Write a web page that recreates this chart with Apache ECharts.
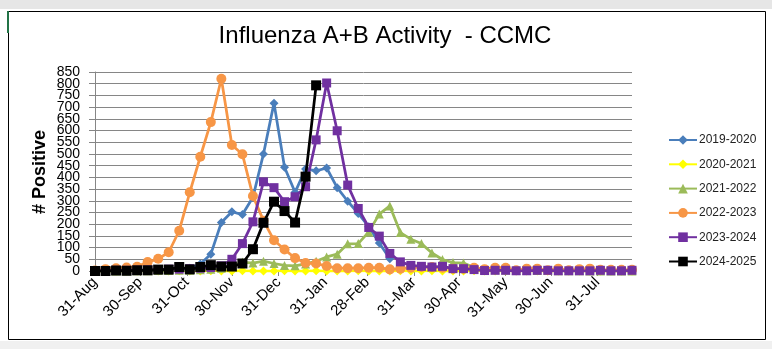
<!DOCTYPE html>
<html><head><meta charset="utf-8">
<script src="https://cdn.jsdelivr.net/npm/echarts@6/dist/echarts.min.js"></script>
<style>html,body{margin:0;padding:0;background:#fff}#c{width:772px;height:349px}</style>
</head><body><div id="c"></div>
<script>
// Week index -> days since 31-Aug (weekly samples)
const monthLabels = ['31-Aug','30-Sep','31-Oct','30-Nov','31-Dec','31-Jan','28-Feb','31-Mar','30-Apr','31-May','30-Jun','31-Jul'];
const monthDays   = [0, 30, 61, 91, 122, 153, 181, 212, 242, 273, 303, 334];
const yTicks      = [0,50,100,150,200,250,300,350,400,450,500,550,600,650,700,750,800,850];
const seriesNames = ['2019-2020','2020-2021','2021-2022','2022-2023','2023-2024','2024-2025'];

const s2019 = [1,1,2,2,3,3,5,5,8,12,30,72,207,253,241,315,500,717,443,336,436,428,440,356,298,246,189,120,52];
const s2020 = [0,0,0,0,0,1,0,0,1,0,0,1,0,0,1,0,0,0,1,0,0,1,0,0,0,1,0,0,0,1,0,0,1,0,0,0,1,0,0,0,1,0,0,0,0,1,0,0,0,0,0,0];
const s2021 = [0,0,0,0,1,1,2,2,3,3,5,8,12,20,38,34,42,32,24,22,30,42,60,72,116,117,167,243,278,164,136,117,77,49,36,34,15,8,5,4,3,3,2,2,1,1,1,0,0,0,0,0];
const s2022 = [2,8,12,15,18,38,52,80,172,336,488,636,821,538,499,320,215,131,92,55,34,32,21,12,12,12,14,14,7,10,14,17,17,14,10,10,14,8,14,14,3,10,10,3,10,3,8,10,5,5,5,5];
const s2023 = [2,2,3,3,4,5,6,8,8,10,12,15,22,50,117,210,381,356,296,317,360,560,803,599,367,267,186,149,75,39,24,20,17,20,10,10,6,2,3,3,1,1,3,3,1,1,1,1,3,1,1,3];
const s2024 = [0,0,2,1,3,3,6,6,17,7,17,25,19,19,32,93,206,296,256,207,403,793];

const allValues = [s2019, s2020, s2021, s2022, s2023, s2024];
const colors  = ['#4A7EBB','#FFFF00','#9BBB59','#F79646','#7030A0','#000000'];
const symbols = ['diamond','diamond','triangle','circle','rect','rect'];
const sizes   = [9, 9, 9, 10, 9, 10];

const labelMap = {};
monthDays.forEach((d, i) => { labelMap[d] = monthLabels[i]; });
// split y labels across two overlaid axes so tightly packed labels are not auto-hidden
const yEven = yTicks.filter((v, i) => i % 2 === 0);
const yOdd  = yTicks.filter((v, i) => i % 2 === 1);

const FONT = '"Liberation Sans", sans-serif';
const yLabelStyle = {fontFamily: FONT, fontSize: 14, color: '#000', margin: 15, showMinLabel: true, showMaxLabel: true};

const chart = echarts.init(document.getElementById('c'), null, {renderer: 'canvas'});
chart.setOption({
  animation: false,
  backgroundColor: '#ffffff',
  title: {
    text: 'Influenza A+B Activity  - CCMC',
    left: 380, textAlign: 'center', top: 19,
    textStyle: {fontFamily: FONT, fontSize: 24, fontWeight: 'normal', color: '#000'}
  },
  graphic: [
    {type: 'rect', shape: {x: 0, y: 0, width: 772, height: 9}, style: {fill: '#e6e6e6'}, silent: true},
    {type: 'rect', shape: {x: 0, y: 341, width: 772, height: 8}, style: {fill: '#f0f0f0'}, silent: true},
    {type: 'rect', shape: {x: 8.5, y: 11.5, width: 757, height: 328}, style: {fill: null, stroke: '#000', lineWidth: 1}, silent: true},
    {type: 'rect', shape: {x: 7, y: 11, width: 2, height: 22}, style: {fill: '#217346'}, silent: true},
    {type: 'text', x: 40, y: 172, rotation: Math.PI / 2,
      style: {text: '# Positive', fontFamily: FONT, fontSize: 18, fontWeight: 'bold', fill: '#000', align: 'center', verticalAlign: 'middle'}, silent: true}
  ],
  legend: {
    orient: 'vertical', left: 663, top: 129,
    itemWidth: 28, itemHeight: 12, itemGap: 12.3,
    data: seriesNames,
    textStyle: {fontFamily: FONT, fontSize: 12, color: '#222', padding: [0,0,0,-3]}
  },
  grid: {left: 95, right: 140, top: 72, bottom: 78, containLabel: false},
  xAxis: {
    type: 'value', min: 0, max: 357,
    axisLine: {show: true, lineStyle: {color: '#868686', width: 1}},
    axisTick: {show: true, customValues: monthDays, length: 5, lineStyle: {color: '#868686'}},
    splitLine: {show: false},
    axisLabel: {
      customValues: monthDays, rotate: 45, margin: 9,
      fontFamily: FONT, fontSize: 15, color: '#000',
      formatter: v => labelMap[v] || ''
    }
  },
  yAxis: [
    {
      type: 'value', min: 0, max: 850, interval: 50, position: 'left',
      axisLine: {show: true, lineStyle: {color: '#868686', width: 1}},
      axisTick: {show: true, length: 6, customValues: yTicks, lineStyle: {color: '#868686'}},
      splitLine: {show: true, lineStyle: {color: '#868686', width: 1}},
      axisLabel: Object.assign({customValues: yEven}, yLabelStyle)
    },
    {
      type: 'value', min: 0, max: 850, interval: 50, position: 'left', offset: 0,
      axisLine: {show: false}, axisTick: {show: false}, splitLine: {show: false},
      axisLabel: Object.assign({customValues: yOdd}, yLabelStyle)
    }
  ],
  series: allValues.map((vals, k) => ({
    name: seriesNames[k],
    type: 'line',
    yAxisIndex: 0,
    data: vals.map((v, i) => [i * 7, v]),
    symbol: symbols[k],
    symbolSize: sizes[k],
    showAllSymbol: true,
    lineStyle: {color: colors[k], width: 2.75},
    itemStyle: {color: colors[k], borderWidth: 0},
    z: 2 + k
  }))
});
</script></body></html>
